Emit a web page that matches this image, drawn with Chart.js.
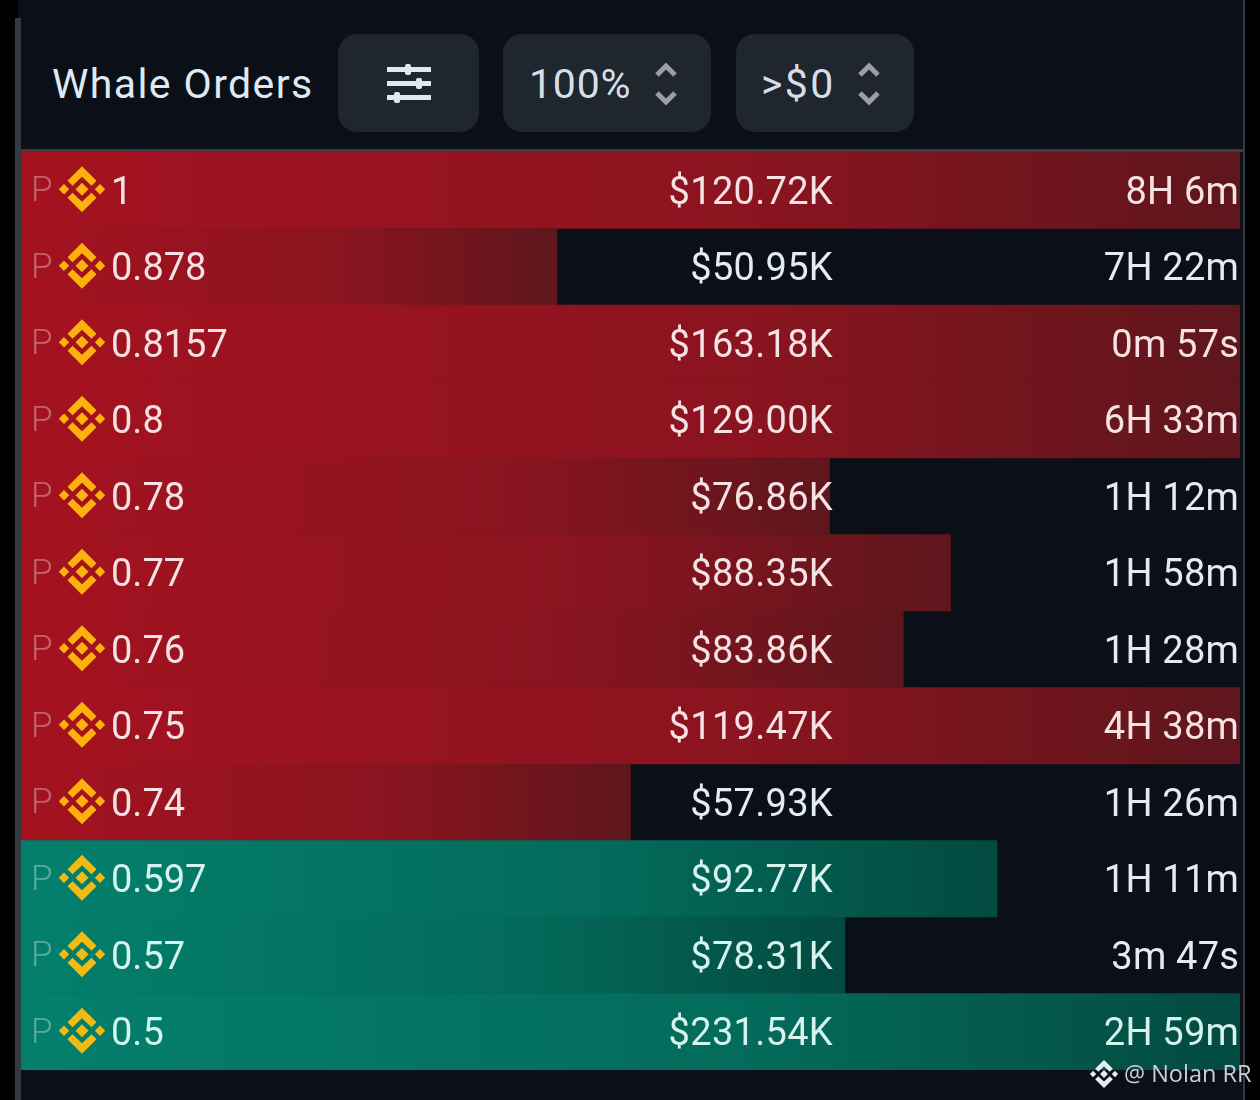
<!DOCTYPE html>
<html>
<head>
<meta charset="utf-8">
<title>Whale Orders</title>
<script src="https://cdn.jsdelivr.net/npm/chart.js@4"></script>
<style>
    html, body { margin: 0; padding: 0; background: #000; }
    #page { position: relative; width: 1260px; height: 1100px; overflow: hidden; background: #000; font-family: Roboto, sans-serif; }
    #panel { position: absolute; left: 18px; top: 0; width: 1225px; height: 1100px; background: #0b0f17; }
    .edge { position: absolute; background: #343a42; }
    #rule { position: absolute; left: 21px; top: 149px; width: 1222px; height: 3px; background: #3a3e45; }
    #title { position: absolute; left: 52px; top: 60px; font-size: 41px; line-height: 48px; color: #dfe9f2; letter-spacing: 1.4px; }
    .btn { position: absolute; top: 34px; height: 98px; border-radius: 19px; background: #1f262e; }
    .btn span { position: absolute; top: 26px; font-size: 41px; line-height: 48px; color: #d5dfe8; }
    .btn svg { position: absolute; }
    canvas { position: absolute; left: 0; top: 0; }
</style>
</head>
<body>
<div id="page">
    <div id="panel"></div>
    <div class="edge" style="left:15px;top:18px;width:6px;height:1082px"></div>
    <div class="edge" style="left:1243px;top:0;width:2px;height:1100px"></div>
    <div id="rule"></div>
    <div id="title">Whale Orders</div>
    <div class="btn" style="left:338px;width:141px">
        <svg style="left:49px;top:29px" width="44" height="40" viewBox="0 0 44 40" fill="#dfe8ef">
            <rect x="0" y="4" width="44" height="5"/><rect x="0" y="18" width="44" height="5"/><rect x="0" y="32" width="44" height="5"/>
            <rect x="18" y="1" width="6" height="11" rx="2"/><rect x="29" y="15" width="6" height="11" rx="2"/><rect x="7" y="29" width="6" height="11" rx="2"/>
        </svg>
    </div>
    <div class="btn" style="left:503px;width:208px">
        <span style="left:26px;letter-spacing:0.8px">100%</span>
        <svg style="left:150px;top:28px" width="26" height="44" viewBox="0 0 26 44" fill="none" stroke="#9a9fa5" stroke-width="5">
            <path d="M4 13 L13 4 L22 13"/><path d="M4 31 L13 40 L22 31"/>
        </svg>
    </div>
    <div class="btn" style="left:736px;width:178px">
        <span style="left:25px;letter-spacing:2.4px">&gt;$0</span>
        <svg style="left:120px;top:28px" width="26" height="44" viewBox="0 0 26 44" fill="none" stroke="#9a9fa5" stroke-width="5">
            <path d="M4 13 L13 4 L22 13"/><path d="M4 31 L13 40 L22 31"/>
        </svg>
    </div>
    <canvas id="ordersChart" width="1260" height="1100"></canvas>
</div>
<script>
const prices = ["1", "0.878", "0.8157", "0.8", "0.78", "0.77", "0.76", "0.75", "0.74", "0.597", "0.57", "0.5"];
const sizeK = [120.72, 50.95, 163.18, 129.00, 76.86, 88.35, 83.86, 119.47, 57.93, 92.77, 78.31, 231.54];
const sizeLabels = ["$120.72K", "$50.95K", "$163.18K", "$129.00K", "$76.86K", "$88.35K", "$83.86K", "$119.47K", "$57.93K", "$92.77K", "$78.31K", "$231.54K"];
const ages = ["8H 6m", "7H 22m", "0m 57s", "6H 33m", "1H 12m", "1H 58m", "1H 28m", "4H 38m", "1H 26m", "1H 11m", "3m 47s", "2H 59m"];
const sides = ["sell", "sell", "sell", "sell", "sell", "sell", "sell", "sell", "sell", "buy", "buy", "buy"];
const axisMaxK = 115.87; // the biggest orders run past the panel edge

const FONT = "Roboto, sans-serif";

function barGradient(context) {
    const chart = context.chart;
    const area = chart.chartArea;
    if (!area) return "#a5121f";
    const value = sizeK[context.dataIndex];
    const end = Math.min(chart.scales.x.getPixelForValue(value), area.right);
    const g = chart.ctx.createLinearGradient(area.left, 0, end, 0);
    if (sides[context.dataIndex] === "sell") {
        g.addColorStop(0, "#a5121f");
        g.addColorStop(0.6, "#8a141f");
        g.addColorStop(1, "#5e161c");
    } else {
        g.addColorStop(0, "#03806c");
        g.addColorStop(0.6, "#036b5b");
        g.addColorStop(1, "#034a41");
    }
    return g;
}

// the small BNB mark next to each price
function drawCoin(ctx, cx, cy, r, color) {
    const u = r / 23;
    const poly = (pts) => {
        ctx.beginPath();
        pts.forEach((p, i) => {
            if (i === 0) ctx.moveTo(cx + p[0] * u, cy + p[1] * u);
            else ctx.lineTo(cx + p[0] * u, cy + p[1] * u);
        });
        ctx.closePath();
        ctx.fill();
    };
    const diamond = (x, y, h) => poly([[x, y - h], [x + h, y], [x, y + h], [x - h, y]]);
    ctx.fillStyle = color;
    diamond(0, 0, 6.5);
    diamond(-18, 0, 5.2);
    diamond(18, 0, 5.2);
    poly([[0, -23], [14.5, -8.5], [9.5, -3.5], [0, -12.5], [-9.5, -3.5], [-14.5, -8.5]]);
    poly([[0, 23], [14.5, 8.5], [9.5, 3.5], [0, 12.5], [-9.5, 3.5], [-14.5, 8.5]]);
}

const rowText = {
    id: "rowText",
    afterDatasetsDraw(chart) {
        const ctx = chart.ctx;
        const x = chart.scales.x;
        const y = chart.scales.y;
        ctx.save();
        ctx.textBaseline = "middle";
        prices.forEach((p, i) => {
            const yy = y.getPixelForValue(i);
            const barEnd = Math.min(x.getPixelForValue(sizeK[i]), chart.chartArea.right);
            const tint = sides[i] === "sell" ? "#f6e2e5" : "#d6f3ee";

            ctx.textAlign = "left";
            ctx.font = "300 35px " + FONT;
            ctx.fillStyle = "rgba(255,255,255,0.34)";
            ctx.fillText("P", 31, yy + 2);
            drawCoin(ctx, 82, yy - 1, 23, sides[i] === "sell" ? "#fdb10c" : "#f2bb12");

            ctx.font = "38px " + FONT;
            ctx.fillStyle = tint;
            ctx.fillText(p, 111, yy + 4);

            ctx.textAlign = "right";
            ctx.letterSpacing = "0.3px";
            ctx.fillStyle = barEnd > 760 ? tint : "#e3ecf3";
            ctx.fillText(sizeLabels[i], 833, yy + 4);
            ctx.letterSpacing = "0.2px";
            ctx.fillStyle = barEnd > 1200 ? tint : "#e3ecf3";
            ctx.fillText(ages[i], 1239, yy + 4);
            ctx.letterSpacing = "0px";
        });

        // watermark sits on top of the last row
        drawCoin(ctx, 1104, 1074, 14, "#e8ecee");
        ctx.textAlign = "left";
        ctx.font = '23.5px "Open Sans", sans-serif';
        ctx.fillStyle = "#c9d0d4";
        ctx.fillText("@ Nolan RR", 1124, 1075);
        ctx.restore();
    }
};

new Chart(document.getElementById("ordersChart"), {
    type: "bar",
    data: {
        labels: prices,
        datasets: [{
            data: sizeK,
            backgroundColor: barGradient,
            borderWidth: 0,
            barPercentage: 1,
            categoryPercentage: 1
        }]
    },
    options: {
        indexAxis: "y",
        responsive: false,
        animation: false,
        layout: { padding: { left: 21, right: 20, top: 152, bottom: 30 } },
        plugins: { legend: { display: false }, tooltip: { enabled: false } },
        scales: {
            x: { display: false, min: 0, max: axisMaxK },
            y: { display: false }
        }
    },
    plugins: [rowText]
});
</script>
</body>
</html>
